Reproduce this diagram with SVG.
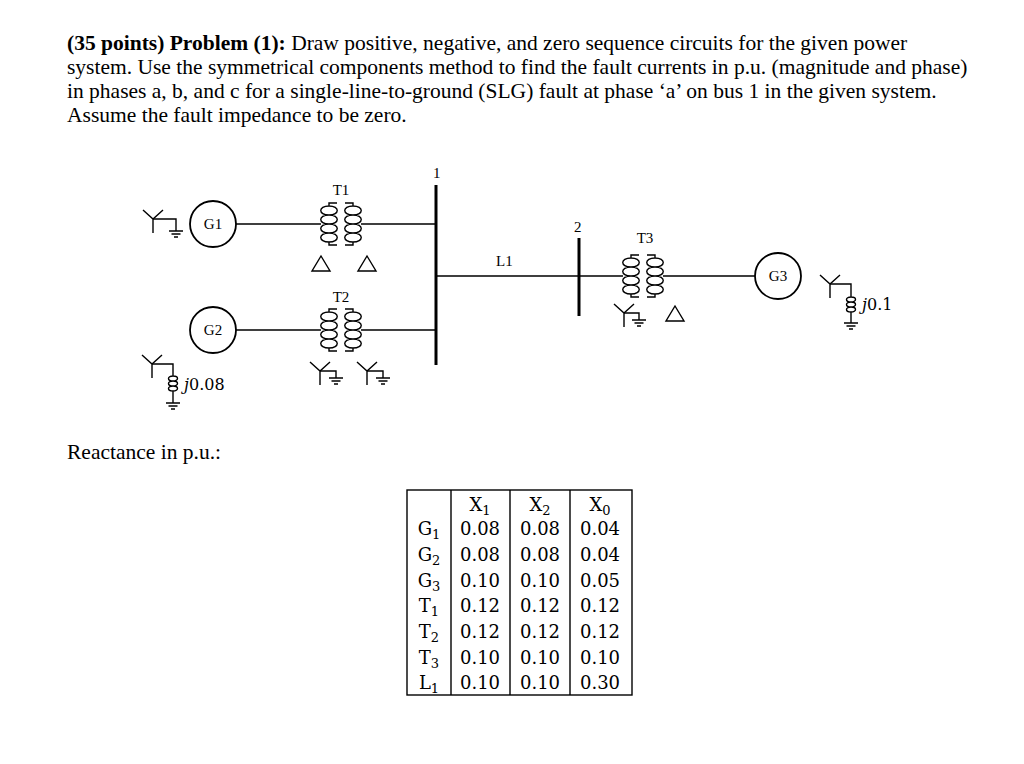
<svg xmlns="http://www.w3.org/2000/svg" width="1024" height="764" viewBox="0 0 1024 764">
<style>
text{font-family:"Liberation Serif",serif;fill:#000}
.t{font-size:21.5px}
.s{font-size:15px}
.m{font-family:"DejaVu Serif","Liberation Serif",serif;font-size:16px}
.tb text{font-family:"DejaVu Serif",serif;font-size:18px}
.w{stroke:#000;fill:none;stroke-width:1.4}
.b{stroke:#000;fill:none;stroke-width:3}
.g{stroke:#000;fill:#fff;stroke-width:1.8}
</style>
<defs>
<path id="coilL" class="w" d="M8,0 h-8 v3 c-11,0 -11,9 0,9 c11,0 11,-9 0,-9 m0,9 c-11,0 -11,9 0,9 c11,0 11,-9 0,-9 m0,9 c-11,0 -11,9 0,9 c11,0 11,-9 0,-9 m0,9 c-11,0 -11,9 0,9 c11,0 11,-9 0,-9 m0,9 v3 h8"/>
<path id="coilR" class="w" d="M-8,0 h8 v3 c11,0 11,9 0,9 c-11,0 -11,-9 0,-9 m0,9 c11,0 11,9 0,9 c-11,0 -11,-9 0,-9 m0,9 c11,0 11,9 0,9 c-11,0 -11,-9 0,-9 m0,9 c11,0 11,9 0,9 c-11,0 -11,-9 0,-9 m0,9 v3 h-8"/>
<g id="gnd" class="w"><path d="M-7,0 h14 M-4.5,3 h9 M-2,6 h4"/></g>
<g id="wye" class="w"><path d="M-10,-9 L0,0 L10,-9 M0,0 V14"/></g>
<path id="delta" class="w" d="M0,-9 L9,6 H-9 Z"/>
<path id="ind" class="w" d="M0,0 v3 c-6,0 -6,5 0,5 c6,0 6,-5 0,-5 m0,5 c-6,0 -6,5 0,5 c6,0 6,-5 0,-5 m0,5 c-6,0 -6,5 0,5 c6,0 6,-5 0,-5 m0,5 v3"/>
</defs>
<rect width="1024" height="764" fill="#fff"/>
<g id="title">
<text class="t" x="67" y="50"><tspan font-weight="bold">(35 points) Problem (1):</tspan> Draw positive, negative, and zero sequence circuits for the given power</text>
<text class="t" x="67" y="74">system. Use the symmetrical components method to find the fault currents in p.u. (magnitude and phase)</text>
<text class="t" x="67" y="98">in phases a, b, and c for a single-line-to-ground (SLG) fault at phase ‘a’ on bus 1 in the given system.</text>
<text class="t" x="67" y="122">Assume the fault impedance to be zero.</text>
</g>
<g id="connectors">
<path class="w" d="M236,224 H317 M365,224 H436 M236,330 H317 M365,330 H436 M436,276 H617 M669,276 H755"/>
</g>
<g id="bus1"><path class="b" d="M436,185 V365"/><text class="s" x="433" y="178">1</text></g>
<g id="bus2"><path class="b" d="M579,238 V316"/><text class="s" x="574" y="232">2</text></g>
<g id="L1"><text class="s" x="496" y="266">L1</text></g>
<g id="G1">
<circle class="g" cx="213" cy="224" r="23"/><text class="s" x="213" y="229" text-anchor="middle">G1</text>
<use href="#wye" x="153" y="219"/><path class="w" d="M153,219 H176 V231"/><use href="#gnd" x="176" y="231"/>
</g>
<g id="T1">
<text class="s" x="341" y="195" text-anchor="middle">T1</text>
<use href="#coilL" x="329" y="203"/><use href="#coilR" x="353" y="203"/>
<path class="w" d="M317,224 h4 M361,224 h4"/>
<use href="#delta" x="321" y="265"/><use href="#delta" x="367" y="265"/>
</g>
<g id="G2">
<circle class="g" cx="213" cy="330" r="23"/><text class="s" x="213" y="335" text-anchor="middle">G2</text>
<use href="#wye" x="152" y="364"/><path class="w" d="M152,364 H173 V373"/><use href="#ind" x="173" y="373"/><path class="w" d="M173,394 V403"/><use href="#gnd" x="173" y="403"/>
<text class="m" x="184" y="390"><tspan font-style="italic">j</tspan>0.08</text>
</g>
<g id="T2">
<text class="s" x="341" y="302" text-anchor="middle">T2</text>
<use href="#coilL" x="329" y="309"/><use href="#coilR" x="353" y="309"/>
<path class="w" d="M317,330 h4 M361,330 h4"/>
<use href="#wye" x="320" y="371"/><path class="w" d="M320,371 H336 V378"/><use href="#gnd" x="336" y="378"/>
<use href="#wye" x="367" y="371"/><path class="w" d="M367,371 H383 V378"/><use href="#gnd" x="383" y="378"/>
</g>
<g id="T3">
<text class="s" x="645" y="243" text-anchor="middle">T3</text>
<use href="#coilL" x="631" y="255"/><use href="#coilR" x="655" y="255"/>
<path class="w" d="M617,276 h6 M663,276 h6"/>
<use href="#wye" x="624" y="313"/><path class="w" d="M624,313 H639 V320"/><use href="#gnd" x="639" y="320"/>
<use href="#delta" x="675" y="315"/>
</g>
<g id="G3">
<circle class="g" cx="778" cy="276" r="23"/><text class="s" x="778" y="281" text-anchor="middle">G3</text>
<use href="#wye" x="830" y="284"/><path class="w" d="M830,284 H851 V294"/><use href="#ind" x="851" y="294"/><path class="w" d="M851,315 V323"/><use href="#gnd" x="851" y="323"/>
<text class="m" x="862" y="310"><tspan font-style="italic">j</tspan>0.1</text>
</g>
<text class="t" x="67" y="459">Reactance in p.u.:</text>
<g id="table" class="tb">
<rect x="407" y="490" width="225" height="205" class="w" stroke-width="1"/>
<path class="w" stroke-width="1" d="M451,490 V695 M510,490 V695 M570,490 V695"/>
<g text-anchor="middle">
<text x="480" y="511">X<tspan font-size="13" dy="4">1</tspan></text>
<text x="540" y="511">X<tspan font-size="13" dy="4">2</tspan></text>
<text x="600" y="511">X<tspan font-size="13" dy="4">0</tspan></text>
<text x="429" y="535">G<tspan font-size="13" dy="4">1</tspan></text>
<text x="429" y="561">G<tspan font-size="13" dy="4">2</tspan></text>
<text x="429" y="587">G<tspan font-size="13" dy="4">3</tspan></text>
<text x="429" y="612">T<tspan font-size="13" dy="4">1</tspan></text>
<text x="429" y="638">T<tspan font-size="13" dy="4">2</tspan></text>
<text x="429" y="664">T<tspan font-size="13" dy="4">3</tspan></text>
<text x="429" y="689">L<tspan font-size="13" dy="4">1</tspan></text>
<text x="480" y="535">0.08</text><text x="540" y="535">0.08</text><text x="600" y="535">0.04</text>
<text x="480" y="561">0.08</text><text x="540" y="561">0.08</text><text x="600" y="561">0.04</text>
<text x="480" y="587">0.10</text><text x="540" y="587">0.10</text><text x="600" y="587">0.05</text>
<text x="480" y="612">0.12</text><text x="540" y="612">0.12</text><text x="600" y="612">0.12</text>
<text x="480" y="638">0.12</text><text x="540" y="638">0.12</text><text x="600" y="638">0.12</text>
<text x="480" y="664">0.10</text><text x="540" y="664">0.10</text><text x="600" y="664">0.10</text>
<text x="480" y="689">0.10</text><text x="540" y="689">0.10</text><text x="600" y="689">0.30</text>
</g>
</g>
</svg>
